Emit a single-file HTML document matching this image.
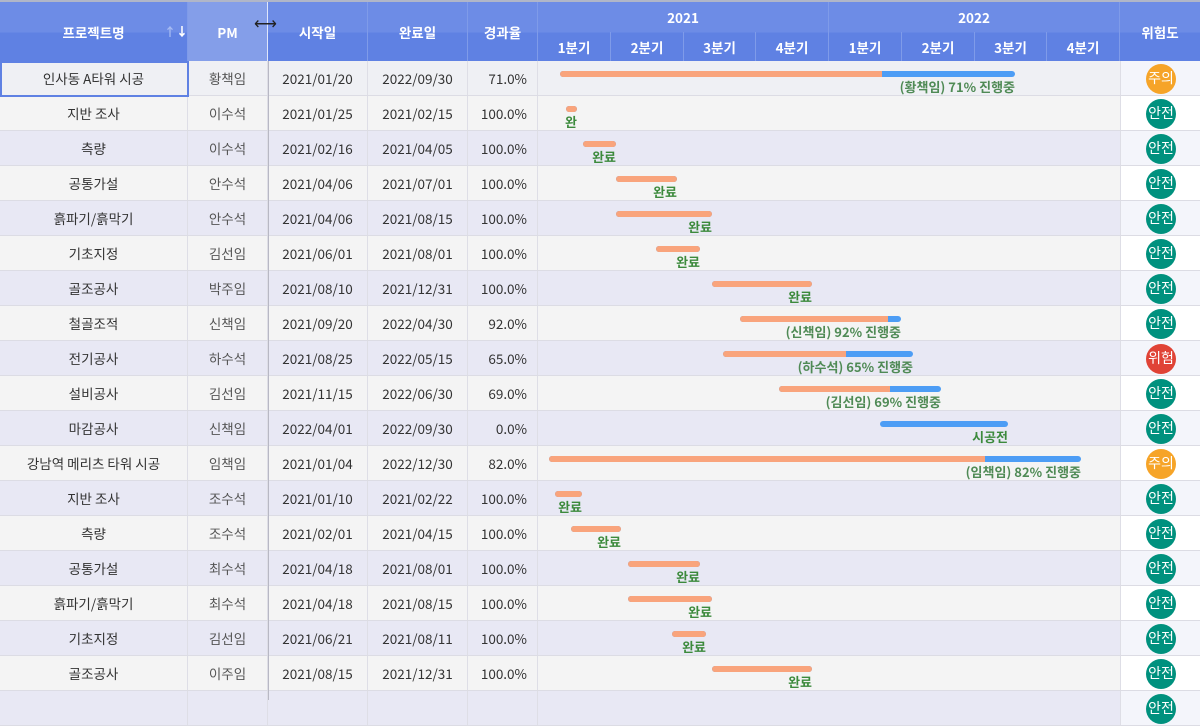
<!DOCTYPE html>
<html><head><meta charset="utf-8"><style>
*{margin:0;padding:0;box-sizing:border-box}
body{width:1200px;height:700px;overflow:hidden;background:#f4f4f4;font-family:"Noto Sans CJK KR","Liberation Sans",sans-serif;position:relative}
.hd{position:absolute;top:0;left:0;width:1200px;height:61px;background:linear-gradient(#6d8ce6 0,#6d8ce6 30px,#5f81e3 31px,#5f81e3 61px);border-top:2px solid #b0b6c8}
.h{position:absolute;color:#fff;font-size:13.5px;font-weight:bold;display:flex;align-items:center;justify-content:center;border-right:1px solid #7f9be9}
.row{position:absolute;left:0;width:1200px;height:35px;border-bottom:1px solid #dcdce4}
.c{position:absolute;top:0;height:34px;line-height:34px;font-size:13.5px;color:#333;text-align:center;border-right:1px solid #dedee6}
.bar{position:absolute;height:6px;border-radius:3px;top:10px}
.lb{position:absolute;top:18px;font-size:13px;font-weight:bold;color:#3c8a3c;line-height:16px;white-space:nowrap}
.rk{position:absolute;left:1146px;top:3px;width:30px;height:30px;border-radius:15px;color:#fff;font-size:14px;line-height:28px;text-align:center}
</style></head><body>
<div class="hd">
<div class="h" style="left:0;top:0;width:188px;height:59px">프로젝트명<span style="position:absolute;left:164px;font-size:12px;color:#a8bcf2">↑<b style="color:#fff">↓</b></span></div>
<div class="h" style="left:188px;top:0;width:80px;height:59px;background:#849ee9;font-weight:bold;border-right:1px solid #dfe6fb">PM</div>
<div class="h" style="left:268px;top:0;width:100px;height:59px">시작일</div>
<div class="h" style="left:368px;top:0;width:100px;height:59px">완료일</div>
<div class="h" style="left:468px;top:0;width:70px;height:59px">경과율</div>
<div class="h" style="left:538px;top:0;width:291px;height:30px">2021</div>
<div class="h" style="left:829px;top:0;width:291px;height:30px">2022</div>
<div class="h" style="left:538px;top:30px;width:73px;height:29px">1분기</div>
<div class="h" style="left:611px;top:30px;width:73px;height:29px">2분기</div>
<div class="h" style="left:684px;top:30px;width:72px;height:29px">3분기</div>
<div class="h" style="left:756px;top:30px;width:73px;height:29px">4분기</div>
<div class="h" style="left:829px;top:30px;width:73px;height:29px">1분기</div>
<div class="h" style="left:902px;top:30px;width:73px;height:29px">2분기</div>
<div class="h" style="left:975px;top:30px;width:72px;height:29px">3분기</div>
<div class="h" style="left:1047px;top:30px;width:73px;height:29px">4분기</div>
<div class="h" style="left:1120px;top:0;width:80px;height:59px;border:none">위험도</div>
<div style="position:absolute;left:254px;top:8px;color:#222;font-size:16px">⟷</div>
</div>
<div id="rows"></div>
<div style="position:absolute;left:268px;top:61px;width:1px;height:639px;background:#b8b8c4"></div>
<div style="position:absolute;left:0;top:61px;width:189px;height:36px;border:2px solid #5f81e3"></div>
<script>
var R=[
["인사동 A타워 시공","황책임","2021/01/20","2022/09/30","71.0%",560,1015,882,"(황책임) 71% 진행중","o"],
["지반 조사","이수석","2021/01/25","2021/02/15","100.0%",566,577,577,"완","g"],
["측량","이수석","2021/02/16","2021/04/05","100.0%",583,616,616,"완료","g"],
["공통가설","안수석","2021/04/06","2021/07/01","100.0%",616,677,677,"완료","g"],
["흙파기/흙막기","안수석","2021/04/06","2021/08/15","100.0%",616,712,712,"완료","g"],
["기초지정","김선임","2021/06/01","2021/08/01","100.0%",656,700,700,"완료","g"],
["골조공사","박주임","2021/08/10","2021/12/31","100.0%",712,812,812,"완료","g"],
["철골조적","신책임","2021/09/20","2022/04/30","92.0%",740,901,888,"(신책임) 92% 진행중","g"],
["전기공사","하수석","2021/08/25","2022/05/15","65.0%",723,913,846,"(하수석) 65% 진행중","r"],
["설비공사","김선임","2021/11/15","2022/06/30","69.0%",779,941,890,"(김선임) 69% 진행중","g"],
["마감공사","신책임","2022/04/01","2022/09/30","0.0%",880,1008,880,"시공전","g"],
["강남역 메리츠 타워 시공","임책임","2021/01/04","2022/12/30","82.0%",549,1081,985,"(임책임) 82% 진행중","o"],
["지반 조사","조수석","2021/01/10","2021/02/22","100.0%",555,582,582,"완료","g"],
["측량","조수석","2021/02/01","2021/04/15","100.0%",571,621,621,"완료","g"],
["공통가설","최수석","2021/04/18","2021/08/01","100.0%",628,700,700,"완료","g"],
["흙파기/흙막기","최수석","2021/04/18","2021/08/15","100.0%",628,712,712,"완료","g"],
["기초지정","김선임","2021/06/21","2021/08/11","100.0%",672,706,706,"완료","g"],
["골조공사","이주임","2021/08/15","2021/12/31","100.0%",712,812,812,"완료","g"],
["","","","","",0,0,0,"","g"]];
var h="";
R.forEach(function(r,i){
var y=61+i*35,bg=i==0?"#eff0f4":(i%2?"#f4f4f4":"#e8e8f4"),rb=i%2?"#ffffff":"#f4f5fb";
h+='<div class="row" style="top:'+y+'px;background:'+bg+'">';
var cs=[[0,188,r[0]],[188,80,r[1]],[268,100,r[2]],[368,100,r[3]],[468,70,r[4]]];
cs.forEach(function(c,k){h+='<div class="c" style="left:'+c[0]+'px;width:'+c[1]+'px;'+(k==4?'text-align:right;padding-right:10px;':'')+(k==1?'color:#555;':'')+'">'+c[2]+'</div>';});
h+='<div class="c" style="left:1120px;width:80px;background:'+rb+';border:none;border-left:1px solid #dedee6"></div>';
if(r[5]){
if(r[7]>r[5])h+='<div class="bar" style="left:'+r[5]+'px;width:'+(r[6]-r[5])+'px;background:#4d9df5"></div><div class="bar" style="left:'+r[5]+'px;width:'+(r[7]-r[5])+'px;background:#f9a47c;'+(r[7]<r[6]?'border-radius:3px 0 0 3px':'')+'"></div>';
else h+='<div class="bar" style="left:'+r[5]+'px;width:'+(r[6]-r[5])+'px;background:#4d9df5"></div>';
h+='<div class="lb" style="right:'+(1200-r[6])+'px;'+(r[4]!="100.0%"&&r[4]!="0.0%"?'color:#4f8a55':'')+'">'+r[8]+'</div>';
}
var col=r[9]=="o"?"#f6a428":r[9]=="r"?"#e04336":"#00917e",t=r[9]=="o"?"주의":r[9]=="r"?"위험":"안전";
h+='<div class="rk" style="background:'+col+'">'+t+'</div></div>';
});
document.getElementById("rows").innerHTML=h;
</script>
</body></html>
